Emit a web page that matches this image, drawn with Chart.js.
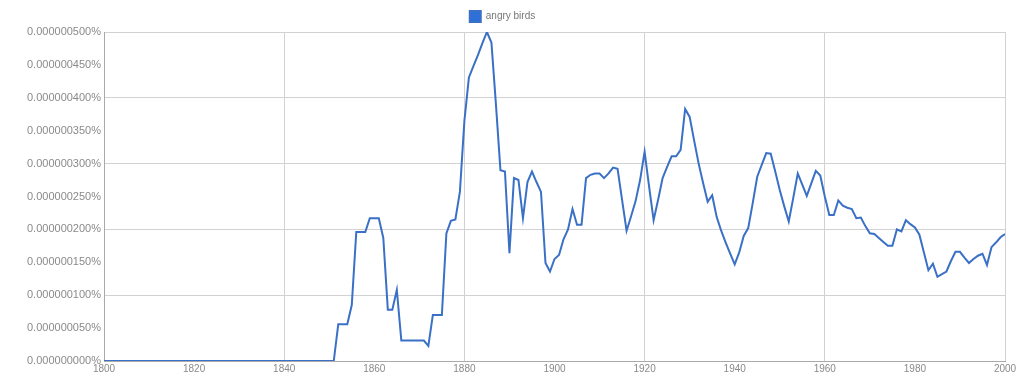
<!DOCTYPE html>
<html>
<head>
<meta charset="utf-8">
<script src="https://cdn.jsdelivr.net/npm/chart.js@4/dist/chart.umd.min.js"></script>
<style>
  html, body { margin: 0; padding: 0; background: #fff; }
  #wrap { width: 1024px; height: 385px; }
</style>
</head>
<body>
<div id="wrap"><canvas id="ngram"></canvas></div>
<script>
// years 1800..2000, one value per year (unit: 1e-9 %)
const years = []
for (let y = 1800; y <= 2000; y++) years.push(y)

const zeros1800to1851 = new Array(52).fill(0)
const vals1852to1900 = [
  56, 56, 56, 85, 196, 196, 196, 217, 217, 217,
  187, 78, 78, 108, 31, 31, 31, 31, 31, 31,
  23, 70, 70, 70, 194, 213, 215, 257, 365, 431,
  448, 465, 483, 500, 484, 390, 290, 288, 164, 278,
  275, 217, 272, 288, 272, 257, 149, 136, 155
]
const vals1901to1950 = [
  161, 185, 200, 231, 207, 207, 278, 283, 285, 285,
  278, 285, 294, 292, 245, 198, 220, 243, 275, 318,
  265, 214, 245, 278, 295, 311, 311, 321, 383, 371,
  335, 300, 270, 242, 252, 219, 198, 180, 163, 147,
  165, 190, 202, 240, 280, 298, 316, 315, 288, 260
]
const vals1951to2000 = [
  235, 212, 248, 285, 268, 251, 270, 289, 282, 250,
  222, 222, 244, 236, 233, 231, 217, 218, 205, 194,
  193, 187, 181, 175, 175, 200, 197, 214, 208, 203,
  192, 165, 138, 148, 128, 132, 136, 152, 166, 166,
  157, 149, 155, 160, 163, 146, 173, 180, 188, 193
]
const angryBirds = zeros1800to1851.concat(vals1852to1900, vals1901to1950, vals1951to2000)

const seriesName = 'angry birds'
const lineColor = '#3a70c6'
const gridColor = '#d2d2d2'
const tickColor = '#8a8a8a'

const config = {
  type: 'line',
  data: {
    datasets: [{
      label: seriesName,
      data: years.map((y, i) => ({ x: y, y: angryBirds[i] })),
      borderColor: lineColor,
      backgroundColor: '#2e6fd8',
      borderWidth: 2,
      pointRadius: 0,
      tension: 0
    }]
  },
  options: {
    responsive: false,
    animation: false,
    layout: { padding: { left: 0, right: 19, top: 3, bottom: 0 } },
    plugins: {
      legend: {
        position: 'top',
        labels: {
          boxWidth: 11,
          boxHeight: 11,
          color: '#777',
          font: { family: 'Liberation Sans', size: 10 },
          padding: 8
        }
      },
      tooltip: { enabled: false }
    },
    scales: {
      x: {
        type: 'linear',
        min: 1800,
        max: 2000,
        ticks: {
          stepSize: 20,
          color: tickColor,
          font: { family: 'Liberation Sans', size: 10 },
          maxRotation: 0,
          padding: 2,
          callback: v => String(v)
        },
        grid: {
          drawTicks: false,
          color: ctx => (ctx.tick && (ctx.tick.value - 1800) % 40 === 0) ? gridColor : 'rgba(0,0,0,0)'
        },
        border: { color: '#aaa' },
        afterFit: scale => { scale.height = 24 }
      },
      y: {
        min: 0,
        max: 500,
        ticks: {
          stepSize: 50,
          color: tickColor,
          font: { family: 'Liberation Sans', size: 11 },
          padding: 3,
          callback: v => (v * 1e-9).toFixed(9) + '%'
        },
        grid: {
          drawTicks: false,
          color: ctx => (ctx.tick && ctx.tick.value % 100 === 0) ? gridColor : 'rgba(0,0,0,0)'
        },
        border: { color: '#aaa' },
        afterFit: scale => { scale.width = 104 }
      }
    }
  }
}

const cv = document.getElementById('ngram')
cv.width = 1024
cv.height = 385
new Chart(cv, config)
</script>
</body>
</html>
